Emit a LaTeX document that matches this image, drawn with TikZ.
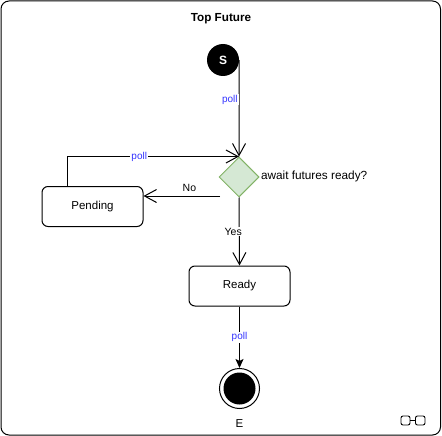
\documentclass[tikz,border=0pt]{standalone}
\usepackage{fontspec}
\setmainfont{Liberation Sans}
\usetikzlibrary{shapes.geometric,arrows.meta}
\definecolor{dgreenfill}{HTML}{D5E8D4}
\definecolor{dgreenline}{HTML}{82B366}
\definecolor{pollblue}{HTML}{3333FF}
\begin{document}
\begin{tikzpicture}[x=1pt,y=-1pt,line width=1pt,
  statebox/.style={draw,rounded corners=6pt,minimum width=101pt,minimum height=40pt,inner sep=0pt,font=\fontsize{11.5}{13}\selectfont},
  choice/.style={diamond,draw=dgreenline,fill=dgreenfill,minimum width=40pt,minimum height=40pt,inner sep=0pt,aspect=1},
  lbl/.style={font=\fontsize{10.5}{12}\selectfont,inner sep=1pt},
  polllbl/.style={font=\fontsize{10}{12}\selectfont,inner sep=1pt,text=pollblue,fill=white},
  openarr/.style={-{Straight Barb[length=12pt,width=13pt,line width=1pt]}},
  fillarr/.style={-{Stealth[length=9pt,width=8pt,inset=2pt]}}]
\useasboundingbox (0,0) rectangle (442,436);
\draw[rounded corners=8pt] (1,1) rectangle (440.5,435);
\node[font=\bfseries\fontsize{11.7}{13}\selectfont] (title) at (221,18.5) {Top Future};
\node[circle,fill=black,minimum size=32pt,inner sep=0pt,text=white,font=\bfseries\fontsize{12}{14}\selectfont] (start) at (223,60) {S};
\node[choice] (dec) at (239,177) {};
\node[anchor=west,inner sep=1pt,font=\fontsize{11.8}{13}\selectfont] (declbl) at (259.5,176) {await futures ready?};
\node[statebox] (pend) at (92.5,206.5) {Pending};
\node[statebox] (ready) at (239.5,286) {Ready};
\node[circle,draw,minimum size=40pt,inner sep=0pt] (endo) at (239.5,388.5) {};
\node[circle,fill=black,minimum size=32pt,inner sep=0pt] (endi) at (239.5,388.5) {};
\node[font=\fontsize{11.5}{13}\selectfont] (elbl) at (239.5,424) {E};
\coordinate (sout) at (239.2,60);
\draw[openarr] (sout) -- (dec.north) node[polllbl,pos=0.41,left=0pt] {poll};
\draw[openarr] ([xshift=-25.5pt]pend.north) |- (dec.north) node[polllbl,pos=0.71] {poll};
\coordinate (noout) at (220,196);
\draw[openarr] (noout) -- (pend.east |- noout) node[lbl,pos=0.4,above=3pt] {No};
\draw[openarr] (dec.south) -- (ready.north) node[lbl,pos=0.5,left=-4pt,fill=white] {Yes};
\draw[fillarr] (ready.south) -- (endo.north) node[polllbl,pos=0.5] {poll};
\draw[line width=0.9pt,rounded corners=2pt] (401,416) rectangle (410,425);
\draw[line width=0.9pt,rounded corners=2pt] (415.5,416) rectangle (425,425);
\draw[line width=0.9pt] (410,420.5) -- (415.5,420.5);
\end{tikzpicture}
\end{document}
